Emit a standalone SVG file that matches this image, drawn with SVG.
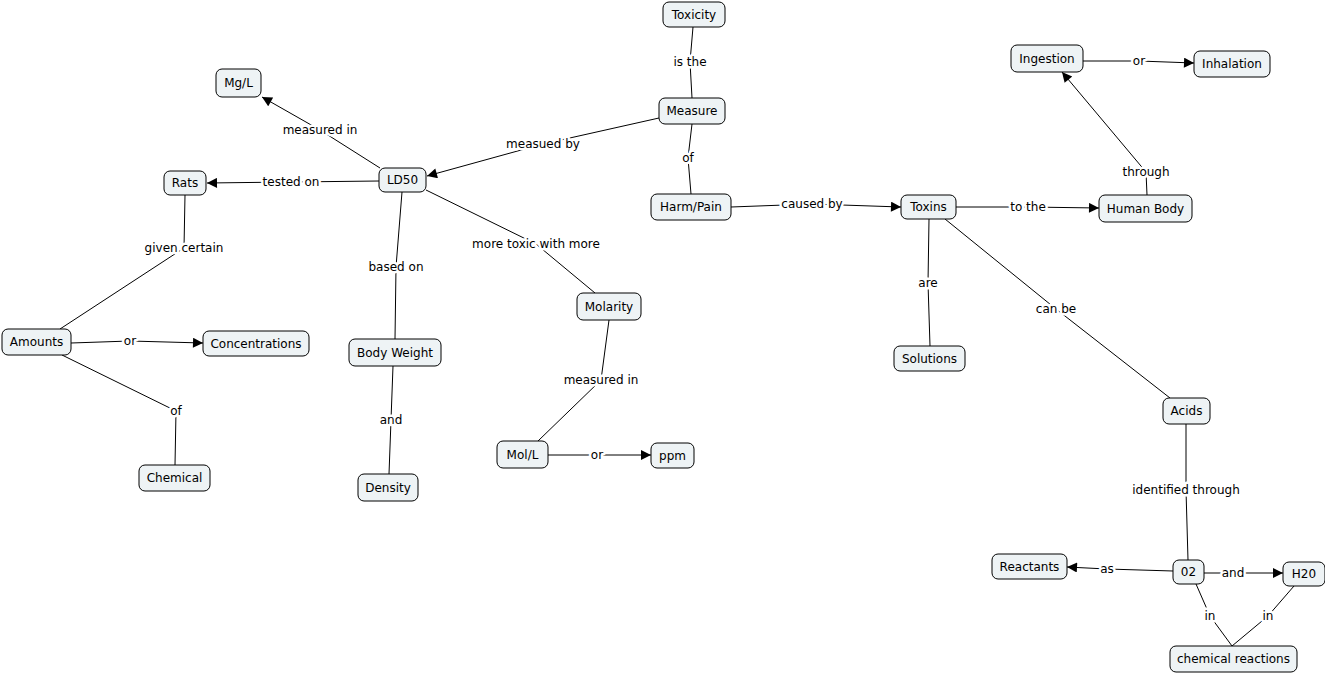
<svg xmlns="http://www.w3.org/2000/svg" width="1325" height="673" viewBox="0 0 1325 673">
<style>
.n rect{fill:#eef3f5;stroke:#000;stroke-width:1}
text{font-family:"DejaVu Sans",Verdana,sans-serif;font-size:12px;fill:#000;text-anchor:middle;dominant-baseline:central}
.c path{fill:none;stroke:#000;stroke-width:1}
.l text{stroke:#fff;stroke-width:5;paint-order:stroke;stroke-linejoin:round}
</style>
<defs><marker id="a" viewBox="0 0 10 10" refX="10" refY="5" markerWidth="12" markerHeight="10" markerUnits="userSpaceOnUse" orient="auto"><path d="M0,0L10,5L0,10z" fill="#000"/></marker></defs>
<rect width="1325" height="673" fill="#fff"/>
<g class="c">
<path d="M693,27L690,62L692,98"/>
<path d="M659,118L543,144L427,176" marker-end="url(#a)"/>
<path d="M692,124L688,158L691,194"/>
<path d="M380,168L320,130L262,97" marker-end="url(#a)"/>
<path d="M379,181L291,182L207,183" marker-end="url(#a)"/>
<path d="M185,195L184,248L60,329"/>
<path d="M402,192L396,267L395,339"/>
<path d="M426,190L536,244L595,293"/>
<path d="M71,343L130,341L203,343" marker-end="url(#a)"/>
<path d="M62,355L176,411L175,465"/>
<path d="M393,366L391,420L389,474"/>
<path d="M609,320L601,380L538,441"/>
<path d="M548,455L597,455L651,455" marker-end="url(#a)"/>
<path d="M731,207L812,204L901,207" marker-end="url(#a)"/>
<path d="M956,207L1028,207L1099,208" marker-end="url(#a)"/>
<path d="M1147,195L1146,172L1062,72" marker-end="url(#a)"/>
<path d="M1083,61L1139,61L1194,63" marker-end="url(#a)"/>
<path d="M929,219L928,283L930,346"/>
<path d="M945,219L1056,309L1170,398"/>
<path d="M1186,424L1186,490L1188,560"/>
<path d="M1173,571L1107,569L1067,567" marker-end="url(#a)"/>
<path d="M1204,573L1233,573L1283,573" marker-end="url(#a)"/>
<path d="M1196,584L1210,616L1232,646"/>
<path d="M1294,586L1268,616L1232,646"/>
</g>
<g class="l">
<text x="690" y="62">is the</text>
<text x="543" y="144">measued by</text>
<text x="688" y="158">of</text>
<text x="320" y="130">measured in</text>
<text x="291" y="182">tested on</text>
<text x="184" y="248">given certain</text>
<text x="396" y="267">based on</text>
<text x="536" y="244">more toxic with more</text>
<text x="130" y="341">or</text>
<text x="176" y="411">of</text>
<text x="391" y="420">and</text>
<text x="601" y="380">measured in</text>
<text x="597" y="455">or</text>
<text x="812" y="204">caused by</text>
<text x="1028" y="207">to the</text>
<text x="1146" y="172">through</text>
<text x="1139" y="61">or</text>
<text x="928" y="283">are</text>
<text x="1056" y="309">can be</text>
<text x="1186" y="490">identified through</text>
<text x="1107" y="569">as</text>
<text x="1233" y="573">and</text>
<text x="1210" y="616">in</text>
<text x="1268" y="616">in</text>
</g>
<g class="n" id="toxicity"><rect x="663" y="2" width="62" height="25" rx="6"/><text x="694" y="14.5">Toxicity</text></g>
<g class="n" id="measure"><rect x="659" y="98" width="66" height="26" rx="6"/><text x="692" y="111">Measure</text></g>
<g class="n" id="mgl"><rect x="216" y="69" width="45" height="28" rx="6"/><text x="238.5" y="83">Mg/L</text></g>
<g class="n" id="ld50"><rect x="379" y="168" width="47" height="24" rx="6"/><text x="402.5" y="180">LD50</text></g>
<g class="n" id="rats"><rect x="164" y="171" width="42" height="24" rx="6"/><text x="185" y="183">Rats</text></g>
<g class="n" id="harm"><rect x="651" y="194" width="80" height="26" rx="6"/><text x="691" y="207">Harm/Pain</text></g>
<g class="n" id="toxins"><rect x="901" y="195" width="55" height="24" rx="6"/><text x="928.5" y="207">Toxins</text></g>
<g class="n" id="humanbody"><rect x="1099" y="195" width="93" height="27" rx="6"/><text x="1145.5" y="208.5">Human Body</text></g>
<g class="n" id="ingestion"><rect x="1011" y="45" width="72" height="27" rx="6"/><text x="1047" y="58.5">Ingestion</text></g>
<g class="n" id="inhalation"><rect x="1194" y="51" width="76" height="26" rx="6"/><text x="1232" y="64">Inhalation</text></g>
<g class="n" id="molarity"><rect x="577" y="293" width="64" height="27" rx="6"/><text x="609" y="306.5">Molarity</text></g>
<g class="n" id="amounts"><rect x="2" y="329" width="69" height="26" rx="6"/><text x="36.5" y="342">Amounts</text></g>
<g class="n" id="concentrations"><rect x="203" y="331" width="106" height="25" rx="6"/><text x="256" y="343.5">Concentrations</text></g>
<g class="n" id="bodyweight"><rect x="349" y="339" width="92" height="27" rx="6"/><text x="395" y="352.5">Body Weight</text></g>
<g class="n" id="solutions"><rect x="894" y="346" width="71" height="25" rx="6"/><text x="929.5" y="358.5">Solutions</text></g>
<g class="n" id="acids"><rect x="1163" y="398" width="47" height="26" rx="6"/><text x="1186.5" y="411">Acids</text></g>
<g class="n" id="moll"><rect x="497" y="441" width="51" height="27" rx="6"/><text x="522.5" y="454.5">Mol/L</text></g>
<g class="n" id="ppm"><rect x="651" y="443" width="43" height="25" rx="6"/><text x="672.5" y="455.5">ppm</text></g>
<g class="n" id="chemical"><rect x="139" y="465" width="71" height="26" rx="6"/><text x="174.5" y="478">Chemical</text></g>
<g class="n" id="density"><rect x="358" y="474" width="60" height="27" rx="6"/><text x="388" y="487.5">Density</text></g>
<g class="n" id="reactants"><rect x="992" y="554" width="75" height="25" rx="6"/><text x="1029.5" y="566.5">Reactants</text></g>
<g class="n" id="o2"><rect x="1173" y="560" width="31" height="24" rx="6"/><text x="1188.5" y="572">02</text></g>
<g class="n" id="h20"><rect x="1283" y="562" width="42" height="24" rx="6"/><text x="1304" y="574">H20</text></g>
<g class="n" id="chemreactions"><rect x="1170" y="646" width="127" height="26" rx="6"/><text x="1233.5" y="659">chemical reactions</text></g>
</svg>
